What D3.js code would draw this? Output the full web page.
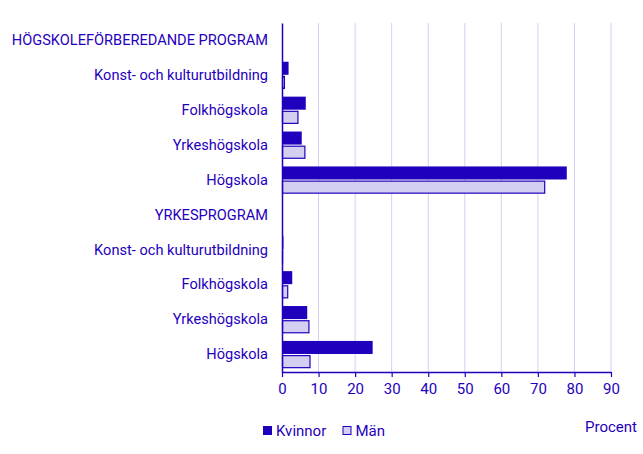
<!DOCTYPE html>
<html>
<head>
<meta charset="utf-8">
<script src="https://cdn.jsdelivr.net/npm/d3@7"></script>
<style>
  body { margin: 0; background: #fff; }
  svg text { font-family: Roboto, "Noto Sans", sans-serif; fill: #1f00bd; }
</style>
</head>
<body>
<svg id="chart"></svg>
<script>
// Full size of the svg element.
const WIDTH = 643
const HEIGHT = 454

// Plot area.
const LEFT = 282
const RIGHT = 611
const TOP = 23
const BOTTOM = 372

const WOMEN_COLOR = "#1f00bd"
const MEN_COLOR = "#d3cff1"
const GRID_COLOR = "#d4d0f0"

// Categories top to bottom. Header rows have no values.
const categories = [
  "HÖGSKOLEFÖRBEREDANDE PROGRAM",
  "Konst- och kulturutbildning",
  "Folkhögskola",
  "Yrkeshögskola",
  "Högskola",
  "YRKESPROGRAM",
  "Konst- och kulturutbildning ",
  "Folkhögskola ",
  "Yrkeshögskola ",
  "Högskola ",
]
const women = [null, 1.8, 6.5, 5.4, 77.9, null, 0.4, 2.8, 6.9, 24.8]
const men = [null, 0.8, 4.5, 6.4, 72.0, null, 0.3, 1.7, 7.5, 7.8]
const seriesNames = ["Kvinnor", "Män"]
const xTicks = [0, 10, 20, 30, 40, 50, 60, 70, 80, 90]
const axisTitle = "Procent"

const svg = d3.select("#chart").attr("width", WIDTH).attr("height", HEIGHT)

const x = d3.scaleLinear().domain([0, 90]).range([LEFT, RIGHT])
const y = d3.scaleBand().domain(d3.range(categories.length)).range([TOP, BOTTOM]).paddingInner(0.22).paddingOuter(0.11)
const ySub = d3.scaleBand().domain([0, 1]).range([0, y.bandwidth()]).paddingInner(0.08)

// Vertical gridlines.
svg
  .append("g")
  .selectAll("line")
  .data(xTicks.slice(1))
  .join("line")
  .attr("x1", (d) => x(d))
  .attr("x2", (d) => x(d))
  .attr("y1", TOP)
  .attr("y2", BOTTOM)
  .attr("stroke", GRID_COLOR)
  .attr("stroke-width", 1)

// Bars: one group per category, women above men.
const rows = svg
  .append("g")
  .selectAll("g")
  .data(categories.map((c, i) => ({ i, values: [women[i], men[i]] })))
  .join("g")
  .attr("transform", (d) => `translate(0, ${y(d.i)})`)

rows
  .selectAll("rect")
  .data((d) => d.values.map((v, s) => ({ v, s })).filter((d) => d.v != null))
  .join("rect")
  .attr("x", (d) => x(0) + (d.s === 1 ? 0.5 : 0))
  .attr("y", (d) => ySub(d.s) + (d.s === 1 ? 0.5 : 0))
  .attr("width", (d) => Math.max(0, x(d.v) - x(0) - (d.s === 1 ? 1 : 0)))
  .attr("height", (d) => ySub.bandwidth() - (d.s === 1 ? 1 : 0))
  .attr("fill", (d) => (d.s === 0 ? WOMEN_COLOR : MEN_COLOR))
  .attr("stroke", (d) => (d.s === 1 ? WOMEN_COLOR : "none"))
  .attr("stroke-width", 1.2)

// Category labels on the left.
const yAxis = svg
  .append("g")
  .attr("transform", `translate(${LEFT}, 0)`)
  .call(d3.axisLeft(y).tickSize(0).tickPadding(14).tickFormat((i) => categories[i].trim()))
yAxis.select(".domain").attr("stroke", WOMEN_COLOR).attr("stroke-width", 1.5)
yAxis.selectAll("text").style("font-size", "14.6px").style("fill", WOMEN_COLOR)

// Bottom axis.
const xAxis = svg
  .append("g")
  .attr("transform", `translate(0, ${BOTTOM})`)
  .call(d3.axisBottom(x).tickValues(xTicks).tickSize(5).tickPadding(6).tickSizeOuter(0))
xAxis.select(".domain").attr("stroke", WOMEN_COLOR).attr("stroke-width", 1.5)
xAxis.selectAll(".tick line").attr("stroke", WOMEN_COLOR).attr("stroke-width", 1.2)
xAxis.selectAll("text").style("font-size", "15px").style("fill", WOMEN_COLOR)

// Axis title.
svg
  .append("text")
  .attr("x", 637)
  .attr("y", 432)
  .attr("text-anchor", "end")
  .style("font-size", "15px")
  .text(axisTitle)

// Legend.
const legend = svg
  .append("g")
  .selectAll("g")
  .data(seriesNames)
  .join("g")
  .attr("transform", (_, i) => `translate(${263 + i * 79.5}, 426)`)

legend
  .append("rect")
  .attr("x", (_, i) => (i === 1 ? 0.5 : 0))
  .attr("y", (_, i) => (i === 1 ? 0.5 : 0))
  .attr("width", (_, i) => (i === 1 ? 8 : 9))
  .attr("height", (_, i) => (i === 1 ? 8 : 9))
  .attr("fill", (_, i) => (i === 0 ? WOMEN_COLOR : MEN_COLOR))
  .attr("stroke", (_, i) => (i === 1 ? WOMEN_COLOR : "none"))

legend
  .append("text")
  .attr("x", 13)
  .attr("y", 10)
  .style("font-size", "15px")
  .text((d) => d)
</script>
</body>
</html>
